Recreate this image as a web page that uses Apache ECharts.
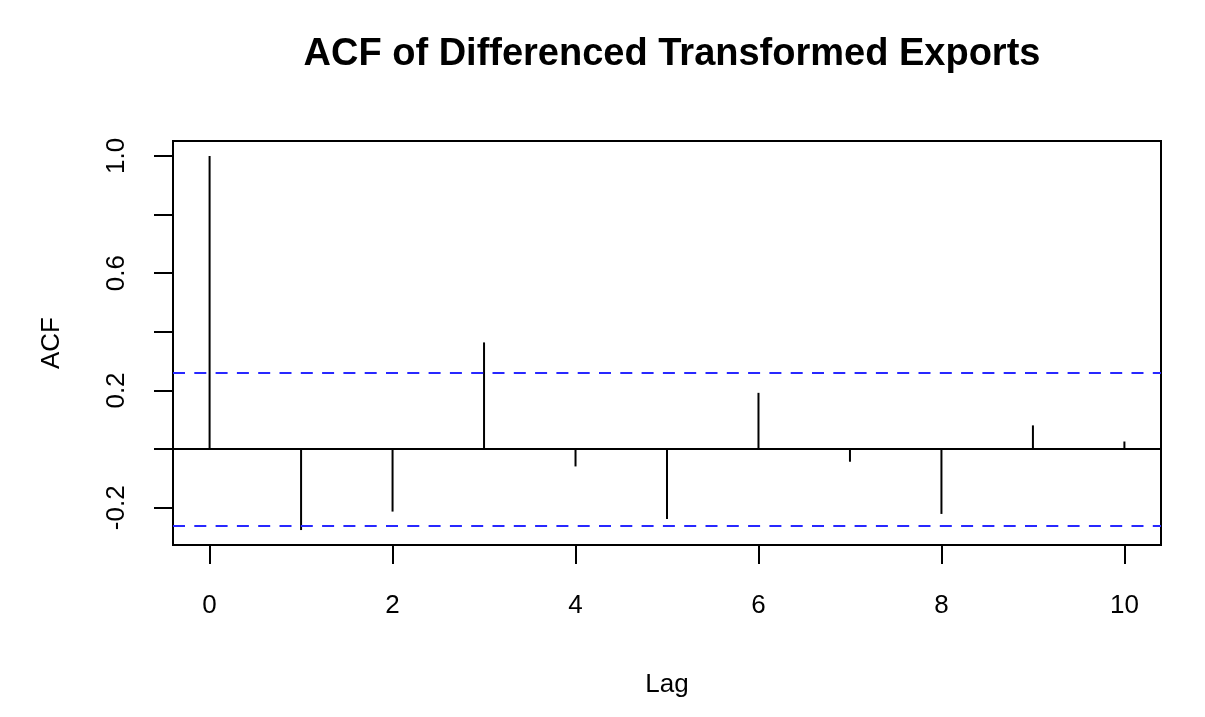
<!DOCTYPE html>
<html>
<head>
<meta charset="utf-8">
<script src="https://cdn.jsdelivr.net/npm/echarts@6/dist/echarts.min.js"></script>
<style>
html,body{margin:0;padding:0;background:#fff;}
#chart{width:1205px;height:717px;}
</style>
</head>
<body>
<div id="chart"></div>
<script>
// ---- data ----
const lags = [0, 1, 2, 3, 4, 5, 6, 7, 8, 9, 10];
const acfValues = [1.0, -0.276, -0.213, 0.364, -0.059, -0.238, 0.192, -0.043, -0.221, 0.081, 0.026];
const ciBound = 0.26;
const xTickValues = [0, 2, 4, 6, 8, 10];
const yTickValues = [-0.2, 0.0, 0.2, 0.4, 0.6, 0.8, 1.0];
const yLabelValues = [-0.2, 0.2, 0.6, 1.0];
const titleText = 'ACF of Differenced Transformed Exports';
const xName = 'Lag';
const yName = 'ACF';

const font = '"Liberation Sans", Arial, Helvetica, sans-serif';
const chart = echarts.init(document.getElementById('chart'), null, {renderer: 'canvas'});

const option = {
  backgroundColor: '#ffffff',
  animation: false,
  title: {
    text: titleText,
    left: 667,
    textAlign: 'center',
    top: 31,
    textStyle: {fontFamily: font, fontSize: 38, fontWeight: 'bold', color: '#000'}
  },
  grid: {
    left: 173, right: 44, top: 141, bottom: 172,
    show: true, borderColor: '#000', borderWidth: 2, backgroundColor: 'transparent'
  },
  xAxis: {
    type: 'value',
    min: -0.4, max: 10.4,
    name: xName,
    nameLocation: 'middle',
    nameGap: 127,
    nameTextStyle: {fontFamily: font, fontSize: 26, color: '#000'},
    axisLine: {show: false, onZero: false},
    axisTick: {show: true, length: 19, customValues: xTickValues, lineStyle: {color: '#000', width: 2}},
    axisLabel: {show: true, customValues: xTickValues, margin: 48, fontFamily: font, fontSize: 26, color: '#000',
      formatter: v => String(v)},
    splitLine: {show: false}
  },
  yAxis: {
    type: 'value',
    min: -0.327, max: 1.051,
    name: yName,
    nameLocation: 'middle',
    nameGap: 108,
    nameRotate: 90,
    nameTextStyle: {fontFamily: font, fontSize: 26, color: '#000'},
    axisLine: {show: false, onZero: false},
    axisTick: {show: true, length: 19, customValues: yTickValues, lineStyle: {color: '#000', width: 2}},
    axisLabel: {show: true, customValues: yLabelValues, rotate: 90, margin: 43, fontFamily: font, fontSize: 26, color: '#000',
      formatter: v => v.toFixed(1)},
    splitLine: {show: false}
  },
  series: [{
    type: 'bar',
    data: lags.map((l, i) => [l, acfValues[i]]),
    barWidth: 2,
    itemStyle: {color: '#000'},
    silent: true,
    markLine: {
      silent: true,
      symbol: ['none', 'none'],
      label: {show: false},
      data: [
        {yAxis: 0, lineStyle: {color: '#000', width: 2, type: 'solid'}},
        {yAxis: ciBound, lineStyle: {color: '#2828ff', width: 2, type: [12, 9.3]}},
        {yAxis: -ciBound, lineStyle: {color: '#2828ff', width: 2, type: [12, 9.3]}}
      ]
    }
  }]
};
chart.setOption(option);
</script>
</body>
</html>
